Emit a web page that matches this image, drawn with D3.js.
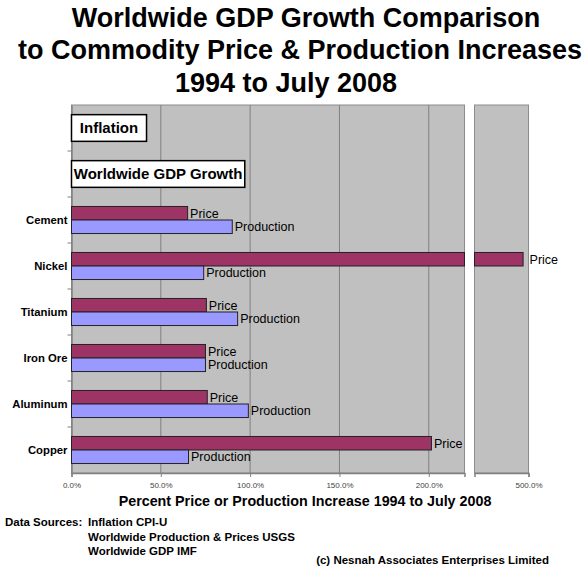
<!DOCTYPE html>
<html><head><meta charset="utf-8">
<script src="https://cdn.jsdelivr.net/npm/d3@7"></script>
<style>body{margin:0;background:#fff}svg{display:block}text{font-family:"Liberation Sans",Arial,sans-serif}</style>
</head><body><svg id="c" width="587" height="577"></svg>
<script>
const titleLines = ["Worldwide GDP Growth Comparison","to Commodity Price & Production Increases","1994 to July 2008"];
const boxCategories = ["Inflation","Worldwide GDP Growth"];
const boxValues = [42, 97];
const commodities = ["Cement","Nickel","Titanium","Iron Ore","Aluminum","Copper"];
const priceValues = [65, 497, 75.5, 75, 76, 201.5];
const productionValues = [90, 74, 93, 75, 99, 65.5];
const ticks1 = [0, 50, 100, 150, 200];
const ticks2 = [500];
const axisTitle = "Percent Price or Production Increase 1994 to July 2008";
const sources = ["Inflation CPI-U","Worldwide Production & Prices USGS","Worldwide GDP IMF"];
const credit = "(c) Nesnah Associates Enterprises Limited";

const svg = d3.select("#c");
const allCats = boxCategories.concat(commodities);
const y = d3.scaleBand().domain(allCats).range([105, 473]);
const x1 = d3.scaleLinear().domain([0, 220]).range([71.5, 464.5]);
const x2 = d3.scaleLinear().domain([470, 500]).range([474.5, 528.5]);
const inner = d3.scaleBand().domain(["Price","Production"]).range([0, y.bandwidth()]).paddingOuter(0.7);

// title
const titleCenters = [306, 300, 286];
svg.append("g").selectAll("text").data(titleLines).join("text")
  .attr("x", (d,i)=>titleCenters[i]).attr("y", (d,i)=>27 + i*32.3).attr("text-anchor","middle")
  .attr("font-size", 27).attr("font-weight","bold").attr("fill","#000").text(d=>d);

// panels
function panel(x, lo, hi){
  svg.append("rect").attr("x", x(lo)).attr("y", 105).attr("width", x(hi)-x(lo)).attr("height", 368)
    .attr("fill","#c0c0c0").attr("stroke","#8c8c8c").attr("stroke-width",1);
}
panel(x1, 0, 220); panel(x2, 470, 500);
// gridlines
svg.append("g").selectAll("line").data(ticks1.slice(1)).join("line")
  .attr("x1", d=>x1(d)).attr("x2", d=>x1(d)).attr("y1",105).attr("y2",473)
  .attr("stroke","#808080").attr("stroke-width",1);

// axes
const ax1 = svg.append("g").attr("transform","translate(0,473)")
  .call(d3.axisBottom(x1).tickValues(ticks1).tickSize(4).tickFormat(d=>d.toFixed(1)+"%"));
const ax2 = svg.append("g").attr("transform","translate(0,473)")
  .call(d3.axisBottom(x2).tickValues(ticks2).tickSize(4).tickFormat(d=>d.toFixed(1)+"%"));
[ax1, ax2].forEach(a=>{
  a.select(".domain").attr("stroke","#808080").attr("stroke-width",1.5);
  a.selectAll(".tick line").attr("stroke","#808080");
  a.selectAll(".tick text").attr("font-size",8).attr("fill","#444").attr("dy","1em")
    .attr("font-family","'Liberation Sans',Arial,sans-serif");
});
const ay = svg.append("g").attr("transform","translate(71.5,0)")
  .call(d3.axisLeft(y).tickSize(0).tickFormat(d=>commodities.includes(d)?d:""));
ay.select(".domain").attr("stroke","#808080").attr("stroke-width",1.5);
ay.selectAll(".tick text").attr("font-size",11.3).attr("font-weight","bold").attr("fill","#000")
  .attr("x",-4).attr("font-family","'Liberation Sans',Arial,sans-serif");
// category boundary ticks
svg.append("g").selectAll("line").data(allCats.slice(1)).join("line")
  .attr("x1",67.5).attr("x2",71.5).attr("y1",d=>y(d)).attr("y2",d=>y(d))
  .attr("stroke","#808080");

// box bars (inflation, GDP)
const bh = y.bandwidth()*0.58;
const bg = svg.append("g").selectAll("g").data(boxCategories).join("g");
bg.append("rect").attr("x", x1(0)).attr("y", d=>y(d)+(y.bandwidth()-bh)/2)
  .attr("width",(d,i)=>x1(boxValues[i])-x1(0)).attr("height",bh)
  .attr("fill","#fff").attr("stroke","#000").attr("stroke-width",1.5);
bg.append("text").attr("x",(d,i)=>(x1(0)+x1(boxValues[i]))/2).attr("y",d=>y(d)+y.bandwidth()/2)
  .attr("dy","0.36em").attr("text-anchor","middle").attr("font-size",15).attr("font-weight","bold").text(d=>d);

// commodity bars
const series = [
  {key:"Price", vals:priceValues, color:"#9e3366"},
  {key:"Production", vals:productionValues, color:"#9999ff"}
];
series.forEach(s=>{
  const g = svg.append("g");
  commodities.forEach((c,i)=>{
    const v = s.vals[i];
    const yy = y(c) + inner(s.key);
    const h = inner.bandwidth();
    const v1 = Math.min(v, 220);
    g.append("rect").attr("x", x1(0)).attr("y", yy).attr("width", x1(v1)-x1(0)).attr("height", h)
      .attr("fill", s.color).attr("stroke","#222").attr("stroke-width",1);
    let endX = x1(v1);
    if (v > 220) {
      g.append("rect").attr("x", x2(470)).attr("y", yy).attr("width", x2(v)-x2(470)).attr("height", h)
        .attr("fill", s.color).attr("stroke","#222").attr("stroke-width",1);
      endX = x2(v) + 4;
    }
    g.append("text").attr("x", endX + 2.5).attr("y", yy + h/2).attr("dy","0.36em")
      .attr("font-size",12.5).attr("fill","#000").text(s.key);
  });
});

// axis title
svg.append("text").attr("x",305).attr("y",506).attr("text-anchor","middle")
  .attr("font-size",14.3).attr("font-weight","bold").text(axisTitle);

// sources
svg.append("text").attr("x",5).attr("y",526).attr("font-size",11.5).attr("font-weight","bold").text("Data Sources:");
svg.append("g").selectAll("text").data(sources).join("text")
  .attr("x",88).attr("y",(d,i)=>526+i*14.5).attr("font-size",11.5).attr("font-weight","bold").text(d=>d);
svg.append("text").attr("x",549).attr("y",564).attr("text-anchor","end")
  .attr("font-size",11.5).attr("font-weight","bold").text(credit);
</script></body></html>
